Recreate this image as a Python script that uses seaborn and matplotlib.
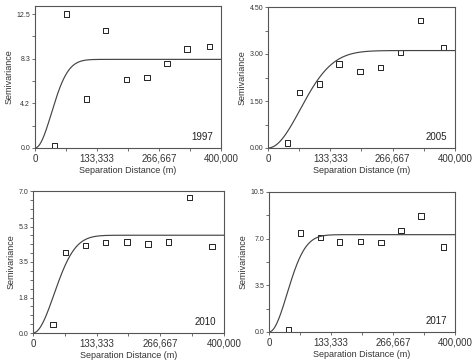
import numpy as np
import pandas as pd
import matplotlib
matplotlib.use("Agg")
import matplotlib.pyplot as plt
import seaborn as sns
from matplotlib.ticker import FixedLocator, AutoMinorLocator

# lag distances (m), same for every year
lags = [42000, 68000, 110000, 152000, 197000, 241000, 284000, 327000, 375000]

# experimental semivariance per year
sv_1997 = [0.25, 12.5, 4.57, 11.0, 6.39, 6.6, 7.87, 9.23, 9.48]
sv_2005 = [0.16, 1.76, 2.04, 2.68, 2.43, 2.57, 3.05, 4.07, 3.21]
sv_2010 = [0.40, 3.95, 4.31, 4.47, 4.49, 4.39, 4.49, 6.67, 4.26]
sv_2017 = [0.20, 7.43, 7.10, 6.75, 6.80, 6.73, 7.60, 8.70, 6.38]

# fitted gaussian model: sill, range parameter (m)
sill = [8.27, 3.11, 4.82, 7.30]
rng = [50000, 97000, 62000, 55000]

years = ["1997", "2005", "2010", "2017"]
yticks = [[0, 4.1667, 8.3333, 12.5], [0, 1.5, 3.0, 4.5],
          [0, 1.75, 3.5, 5.25, 7.0], [0, 3.5, 7.0, 10.5]]
ylabels = [["0.0", "4.2", "8.3", "12.5"], ["0.00", "1.50", "3.00", "4.50"],
           ["0.0", "1.8", "3.5", "5.3", "7.0"], ["0.0", "3.5", "7.0", "10.5"]]
ytop = [13.25, 4.5, 7.0, 10.5]
yminor = [2, 2, 4, 2]
xticks = [0, 133333, 266667, 400000]
xlabels = ["0", "133,333", "266,667", "400,000"]

sns.set_style("ticks")
plt.rcParams['font.family'] = ['Liberation Sans', 'DejaVu Sans']

fig = plt.figure(figsize=(4.74, 3.64), dpi=100)
W, H = 474, 364
boxes = [(35, 6, 221, 148), (268, 7, 455, 148), (33, 191, 224, 333), (269, 192, 455, 332)]

gray = "#555555"
for i, sv in enumerate([sv_1997, sv_2005, sv_2010, sv_2017]):
    l, t, r, b = boxes[i]
    ax = fig.add_axes([l / W, 1 - b / H, (r - l) / W, (b - t) / H])
    df = pd.DataFrame({"lag": lags, "sv": sv})
    h = np.linspace(0, 400000, 300)
    model = pd.DataFrame({"lag": h, "sv": sill[i] * (1 - np.exp(-(h / rng[i]) ** 2))})
    sns.lineplot(data=model, x="lag", y="sv", ax=ax, color="#444444", lw=0.85)
    sns.scatterplot(data=df, x="lag", y="sv", ax=ax, marker="s", s=14,
                    facecolor="none", edgecolor="#222222", linewidth=0.7, clip_on=False)
    ax.set_xlim(0, 400000)
    ax.set_ylim(0, ytop[i])
    ax.xaxis.set_major_locator(FixedLocator(xticks))
    ax.set_xticklabels(xlabels, fontsize=7, color="#333333")
    ax.yaxis.set_major_locator(FixedLocator(yticks[i]))
    ax.set_yticklabels(ylabels[i], fontsize=5, color="#333333")
    ax.xaxis.set_minor_locator(AutoMinorLocator(2))
    ax.yaxis.set_minor_locator(AutoMinorLocator(yminor[i]))
    ax.tick_params(which="both", direction="out", length=2, width=0.6, color=gray, pad=1.5)
    ax.tick_params(axis="x", pad=2)
    for s in ax.spines.values():
        s.set_color(gray)
        s.set_linewidth(0.8)
    ax.set_xlabel("Separation Distance (m)", fontsize=6.5, color="#333333", labelpad=2)
    ax.set_ylabel("Semivariance", fontsize=6.5, color="#333333", labelpad=2)
    ax.text(0.96, 0.04, years[i], transform=ax.transAxes, ha="right", va="bottom",
            fontsize=7, color="#222222")

fig.savefig("out.png", dpi=100, facecolor="white")
